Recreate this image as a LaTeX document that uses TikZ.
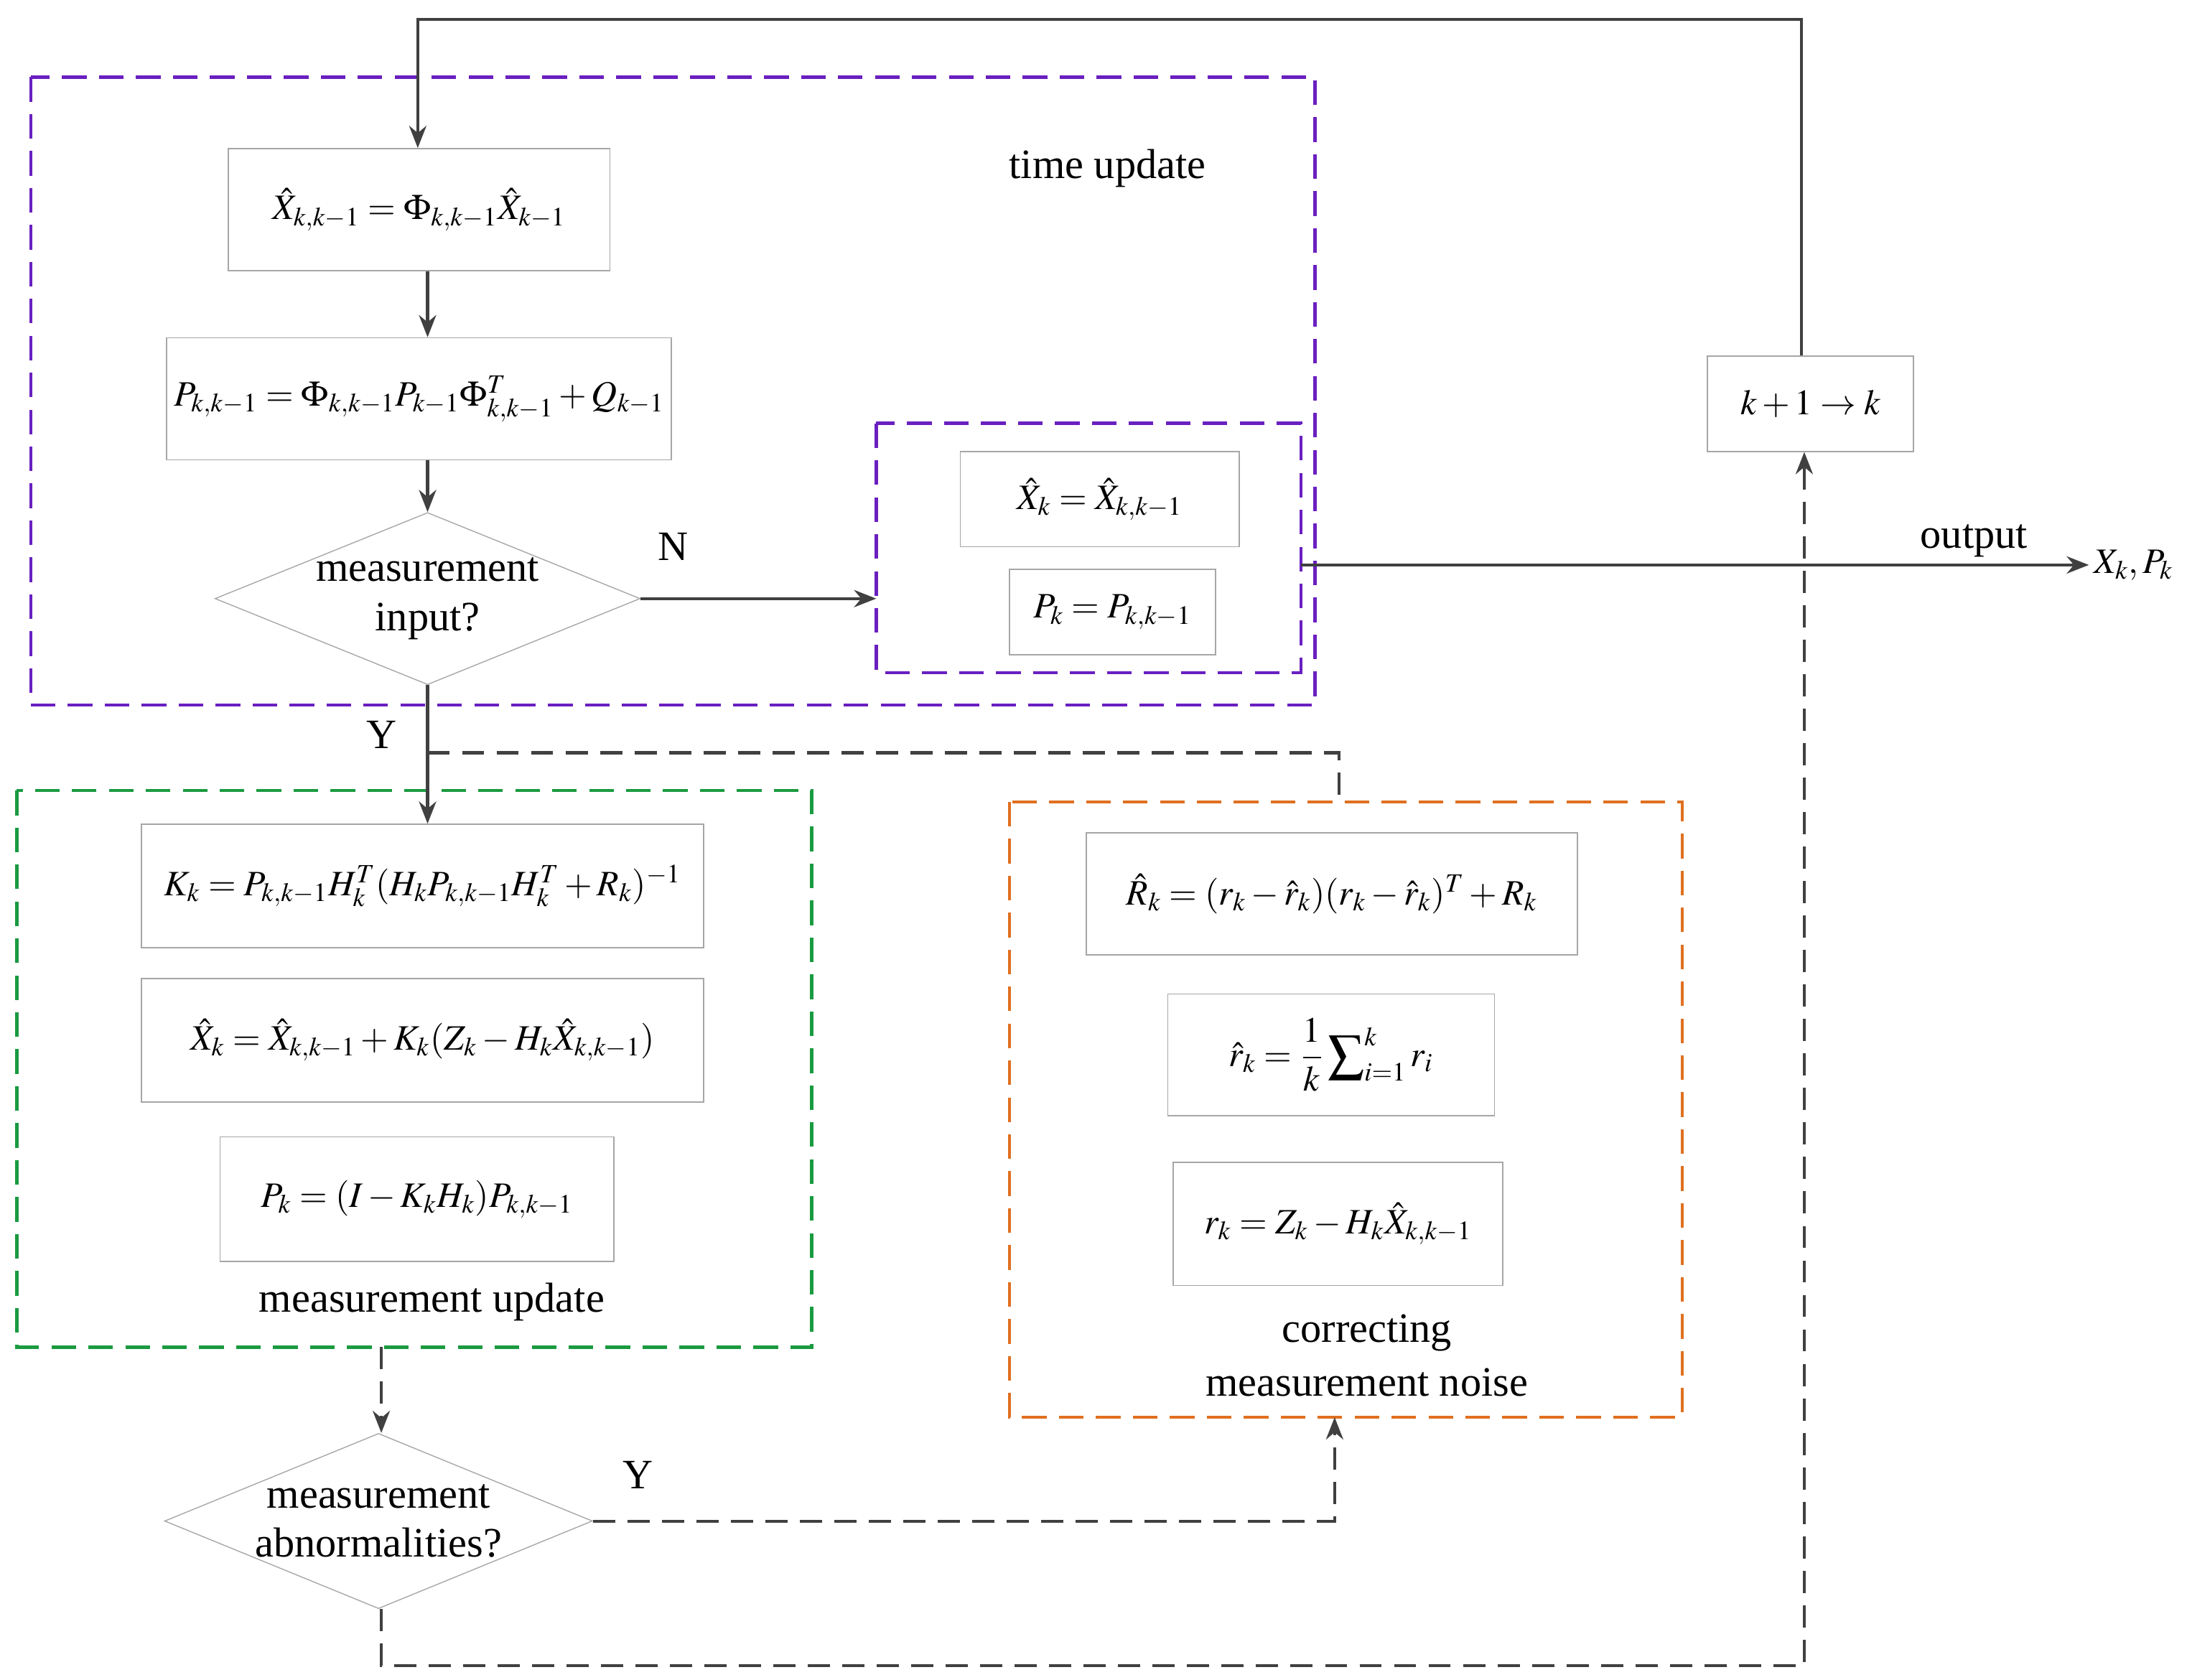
\documentclass[tikz,border=0pt]{standalone}
\usepackage{mathptmx}
\usepackage{fontspec}
\setmainfont{Liberation Serif}
\usetikzlibrary{shapes.geometric,arrows.meta}
\definecolor{ln}{HTML}{404040}
\definecolor{pur}{HTML}{6A1FC0}
\definecolor{grn}{HTML}{1A9A40}
\definecolor{org}{HTML}{E07020}
\begin{document}
\begin{tikzpicture}[x=0.02cm,y=-0.02cm,
  every node/.style={font=\fontsize{17}{20}\selectfont},
  box/.style={draw=gray!70,line width=0.5pt,inner sep=0pt,font=\fontsize{14.5}{18}\selectfont},
  grp/.style={dashed,line width=1.3pt,dash pattern=on 10pt off 5pt},
  con/.style={draw=ln,line width=1.2pt},
  arr/.style={con,-{Stealth[length=9pt,width=7pt]}},
  dcon/.style={con,dash pattern=on 9pt off 5pt},
  darr/.style={dcon,-{Stealth[length=9pt,width=7pt]}},
  dia/.style={draw=gray!70,diamond,aspect=2.47,inner sep=0pt,align=center}]
\useasboundingbox (0,0) rectangle (1560,1198);
% group boxes
\draw[grp,draw=pur] (22,55) rectangle (938,503);
\draw[grp,draw=pur] (625,302) rectangle (928,480);
\draw[grp,draw=grn] (12,564) rectangle (579,961);
\draw[grp,draw=org] (720,572) rectangle (1200,1011);
\node (tu) at (790,120) {time update};
\node (mu) at (308,929) {measurement update};
\node[align=center] (cm) at (975,967) {correcting\\[2pt]measurement noise};
% boxes
\node[box,minimum width=272*0.02cm,minimum height=87*0.02cm] (b1) at (299,149.5) {$\hat X_{k,k-1}=\Phi_{k,k-1}\hat X_{k-1}$};
\node[box,minimum width=360*0.02cm,minimum height=87*0.02cm] (b2) at (299,284.5) {$P_{k,k-1}=\Phi_{k,k-1}P_{k-1}\Phi^T_{k,k-1}+Q_{k-1}$};
\node[dia,minimum width=282*0.02cm,minimum height=114*0.02cm] (d1) at (305,427) {measurement\\input?};
\node[box,minimum width=199*0.02cm,minimum height=68*0.02cm] (b3) at (784.5,356) {$\hat X_k=\hat X_{k,k-1}$};
\node[box,minimum width=147*0.02cm,minimum height=61*0.02cm] (b4) at (793.5,436.5) {$P_k=P_{k,k-1}$};
\node[box,minimum width=147*0.02cm,minimum height=68*0.02cm] (b5) at (1291.5,288) {$k+1\rightarrow k$};
\node[box,minimum width=401*0.02cm,minimum height=88*0.02cm] (b6) at (301.5,632) {$K_k=P_{k,k-1}H_k^T(H_kP_{k,k-1}H_k^T+R_k)^{-1}$};
\node[box,minimum width=401*0.02cm,minimum height=88*0.02cm] (b7) at (301.5,742) {$\hat X_k=\hat X_{k,k-1}+K_k(Z_k-H_k\hat X_{k,k-1})$};
\node[box,minimum width=281*0.02cm,minimum height=89*0.02cm] (b8) at (297.5,855.5) {$P_k=(I-K_kH_k)P_{k,k-1}$};
\node[box,minimum width=350*0.02cm,minimum height=87*0.02cm] (b9) at (950,637.5) {$\hat R_k=(r_k-\hat r_k)(r_k-\hat r_k)^T+R_k$};
\node[box,minimum width=233*0.02cm,minimum height=87*0.02cm] (b10) at (949.5,752.5) {$\hat r_k=\displaystyle\frac{1}{k}\sum\nolimits_{i=1}^{k}r_i$};
\node[box,minimum width=235*0.02cm,minimum height=88*0.02cm] (b11) at (954.5,873) {$r_k=Z_k-H_k\hat X_{k,k-1}$};
\node[dia,minimum width=297*0.02cm,minimum height=125*0.02cm] (d2) at (270,1085) {measurement\\abnormalities?};
\node (out) at (1408,386) {output};
\node[anchor=west,inner sep=2pt,font=\fontsize{14.5}{18}\selectfont] (xp) at (1490,403) {$X_k,P_k$};
\node (N) at (480,390) {N};
\node (Y1) at (272,524) {Y};
\node (Y2) at (455,1052) {Y};
% connectors
\coordinate (c1) at (1285,14); \coordinate (c2) at (298,14);
\draw[arr] (b5.north -| c1) -- (c1) -- (c2) -- (b1.north -| c2);
\draw[arr] (b1.south -| 305,0) -- (b2.north -| 305,0);
\draw[arr] (b2.south -| 305,0) -- (d1.north);
\draw[arr] (d1.east) -- (625,427);
\draw[arr] (d1.south) -- (b6.north -| d1.south);
\draw[arr] (928,403) -- (xp.west);
\coordinate (e1) at (305,537); \coordinate (e2) at (955,537);
\draw[dcon] (e1) -- (e2) -- (955,572);
\draw[darr] (272,961) -- (d2.north -| 272,0);
\coordinate (f1) at (952,1085);
\draw[darr] (d2.east) -- (f1) -- (952,1011);
\coordinate (g1) at (272,1188); \coordinate (g2) at (1287,1188);
\draw[darr] (d2.south -| g1) -- (g1) -- (g2) -- (b5.south -| g2);
\end{tikzpicture}
\end{document}
